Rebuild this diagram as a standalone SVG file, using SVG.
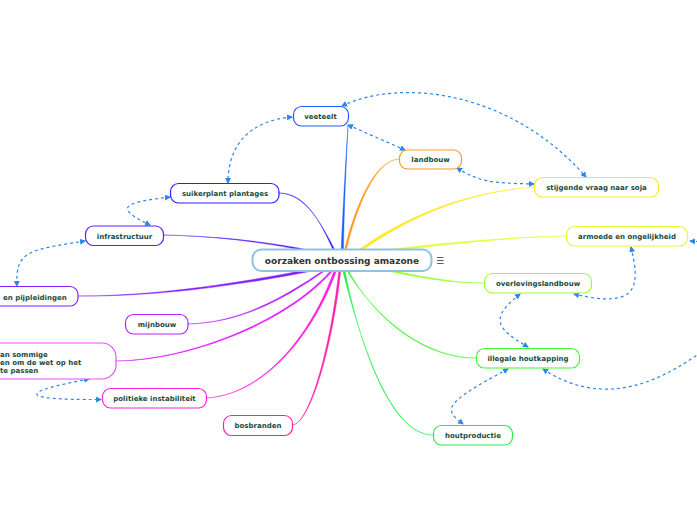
<svg xmlns="http://www.w3.org/2000/svg" width="697" height="520" viewBox="0 0 697 520">
<style>
text{font-family:"DejaVu Sans",Verdana,sans-serif;font-weight:700;font-size:7px;fill:#1a4a42;text-anchor:middle}
.n{fill:#fff;stroke-width:1.2}
.b{stroke-linecap:round}
.d{fill:none;stroke:#2a86e8;stroke-width:1.2;stroke-dasharray:3 3;marker-start:url(#a);marker-end:url(#a)}
</style>
<defs><marker id="a" viewBox="0 0 6 6" refX="5" refY="3" markerWidth="6" markerHeight="6" orient="auto-start-reverse" markerUnits="userSpaceOnUse"><path d="M0 0L6 3L0 6z" fill="#2a86e8"/></marker></defs>
<rect width="697" height="520" fill="#fff"/>
<g id="connectors">
<g class="b" stroke-width="0.4">
<path d="M341 252C343 210 345 170 348 125C346 170 344 210 343.500 252z" fill="#1f5cff" stroke="#1f5cff"/>
<path d="M344 252C355 205 375 160 399 159C376 160 357 205 346 252z" fill="#ff9922" stroke="#ff9922"/>
<path d="M357 251C400 220 460 192 534 187C460 193 401 222 359 253z" fill="#ffe926" stroke="#ffe926"/>
<path d="M350 254C430 244 500 237 566 236C500 238 430 246 350 256z" fill="#ddff33" stroke="#ddff33"/>
<path d="M350 261C400 272 445 283 484 283C445 284 400 274 350 263z" fill="#99ff33" stroke="#99ff33"/>
<path d="M345 268C380 325 430 358 476 358C430 359 378 326 347 268z" fill="#44f533" stroke="#44f533"/>
<path d="M342 268C360 340 390 435 433 435C390 436 358 340 344.500 268z" fill="#22ee44" stroke="#22ee44"/>
<path d="M339 268C332 340 310 425 292 425C311 425 334 340 341 268z" fill="#ff1fa8" stroke="#ff1fa8"/>
<path d="M335 268C310 340 260 395 206 398C260 396 312 340 337.500 268z" fill="#ff1fe0" stroke="#ff1fe0"/>
<path d="M333 268C290 320 190 360 116 361C190 361 292 321 335 268z" fill="#e01fff" stroke="#e01fff"/>
<path d="M327 268C280 300 240 322 188 324C240 323 282 301 329 268z" fill="#b51fff" stroke="#b51fff"/>
<path d="M316 268C230 285 150 296 78 296C150 297 232 287 318 270z" fill="#7f1fff" stroke="#7f1fff"/>
<path d="M314 251C260 240 210 236 163 235C210 236 260 241 316 253z" fill="#5a1fff" stroke="#5a1fff"/>
<path d="M334 252C320 220 305 193 279 193C305 194 320 221 336 252z" fill="#2a1fff" stroke="#2a1fff"/>
</g>
<path class="d" d="M292 117C255 120 228 140 228 183"/>
<path class="d" d="M342 106C400 78 510 90 586 177"/>
<path class="d" d="M348 125L405 150"/>
<path class="d" d="M457 168C480 182 490 183 534 184"/>
<path class="d" d="M170 197C120 203 115 208 150 225"/>
<path class="d" d="M85 241C30 250 15 250 17 286"/>
<path class="d" d="M89 379C20 392 15 400 101 399.5"/>
<path class="d" d="M631 247C640 285 640 310 574 294"/>
<path class="d" d="M520 294C490 318 495 328 528 347"/>
<path class="d" d="M508 369C440 405 445 410 463 424"/>
<path class="d" style="marker-end:none" d="M543 369C590 400 640 395 697 355"/>
<path class="d" style="marker-end:none" d="M690 241L697 241.500"/>
</g>
<g id="center"><rect x="252.500" y="249.500" width="179" height="21.500" rx="9" fill="#fff" stroke="#8fc3e6" stroke-width="2"/><text x="342" y="263.500" style="font-size:9px;fill:#333">oorzaken ontbossing amazone</text><text x="440" y="264" style="font-size:9px;font-weight:400;fill:#333">☰</text></g>
<g id="veeteelt"><rect class="n" x="293.500" y="106.500" width="55" height="19.500" rx="8" stroke="#1f5cff"/><text x="320.500" y="119">veeteelt</text></g>
<g id="landbouw"><rect class="n" x="399.500" y="150" width="62" height="19" rx="8" stroke="#ff9922"/><text x="430.500" y="162">landbouw</text></g>
<g id="soja"><rect class="n" x="534.500" y="177.500" width="124" height="19.500" rx="8" stroke="#ffe926"/><text x="596.500" y="190">stijgende vraag naar soja</text></g>
<g id="armoede"><rect class="n" x="566.500" y="226.500" width="121" height="19.500" rx="8" stroke="#ddff33"/><text x="627" y="239">armoede en ongelijkheid</text></g>
<g id="overleving"><rect class="n" x="484.500" y="273.500" width="107" height="19.500" rx="8" stroke="#99ff33"/><text x="538" y="286">overlevingslandbouw</text></g>
<g id="illegale"><rect class="n" x="476.500" y="348.500" width="103" height="19.500" rx="8" stroke="#44f533"/><text x="528" y="361">illegale houtkapping</text></g>
<g id="houtproductie"><rect class="n" x="433.500" y="425.500" width="79" height="19.500" rx="8" stroke="#22ee44"/><text x="473" y="438">houtproductie</text></g>
<g id="bosbranden"><rect class="n" x="223.500" y="415.500" width="69" height="20" rx="8" stroke="#ff1fa8"/><text x="258" y="428">bosbranden</text></g>
<g id="politieke"><rect class="n" x="102.500" y="388.500" width="104" height="19.500" rx="8" stroke="#ff1fe0"/><text x="154.500" y="401">politieke instabiliteit</text></g>
<g id="wet"><rect class="n" x="-20" y="343" width="136" height="36" rx="14" stroke="#e850ff" stroke-width="1.500"/><text x="0" y="356.500" style="text-anchor:start">an sommige</text><text x="0" y="365" style="text-anchor:start">en om de wet op het</text><text x="0" y="373" style="text-anchor:start">te passen</text></g>
<g id="mijnbouw"><rect class="n" x="125.500" y="314.500" width="62.500" height="19.500" rx="8" stroke="#b51fff"/><text x="157" y="327">mijnbouw</text></g>
<g id="pijpleidingen"><rect class="n" x="-20" y="286.500" width="98" height="19.500" rx="8" stroke="#7f1fff"/><text x="3" y="300" style="text-anchor:start">en pijpleidingen</text></g>
<g id="infrastructuur"><rect class="n" x="85.500" y="226" width="78" height="19.500" rx="8" stroke="#5a1fff"/><text x="124.500" y="238.500">infrastructuur</text></g>
<g id="suikerplant"><rect class="n" x="170.500" y="183.500" width="108.500" height="19.500" rx="8" stroke="#2a1fff"/><text x="225" y="196">suikerplant plantages</text></g>
</svg>
